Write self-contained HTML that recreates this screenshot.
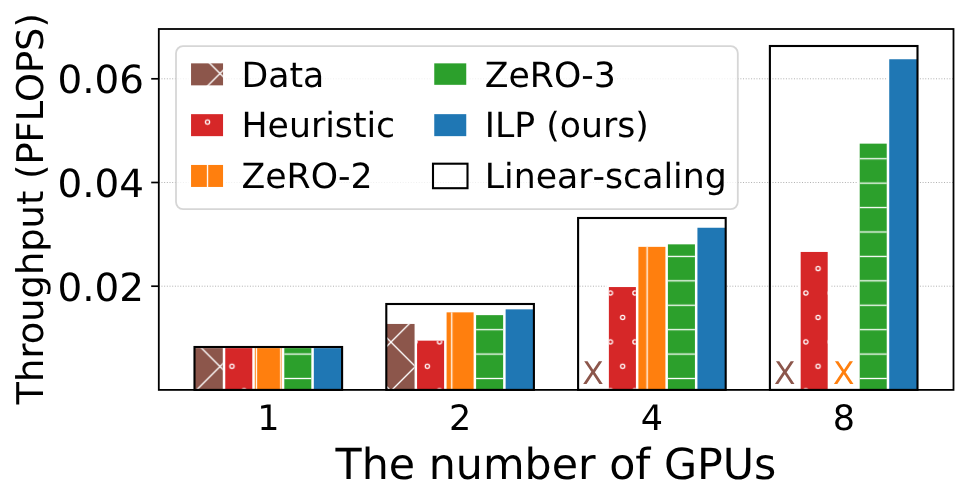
<!DOCTYPE html>
<html><head><meta charset="utf-8"><title>Throughput vs number of GPUs</title>
<style>html,body{margin:0;padding:0;background:#fff;overflow:hidden}svg{display:block}</style></head><body>
<svg width="968" height="502" viewBox="0 0 968 502" font-family="'DejaVu Sans', 'Liberation Sans', sans-serif" text-rendering="geometricPrecision" style="font-kerning:none">
<defs>
<pattern id="hv" patternUnits="userSpaceOnUse" x="0" y="0" width="24.42" height="24.42"><line x1="12.21" y1="-1" x2="12.21" y2="25.42" stroke="#fff" stroke-width="1.3"/></pattern>
<pattern id="hh" patternUnits="userSpaceOnUse" x="0" y="0" width="24.42" height="24.42"><line x1="-1" y1="12.21" x2="25.42" y2="12.21" stroke="#fff" stroke-width="1.3"/></pattern>
<pattern id="hx" patternUnits="userSpaceOnUse" x="0.25" y="0.25" width="48.84" height="48.84"><g stroke="#fff" stroke-width="1.3"><line x1="-50.84" y1="-2" x2="2.0" y2="50.84"/><line x1="2.0" y1="-2" x2="-50.84" y2="50.84"/><line x1="-2.0" y1="-2" x2="50.84" y2="50.84"/><line x1="50.84" y1="-2" x2="-2.0" y2="50.84"/><line x1="46.84" y1="-2" x2="99.68" y2="50.84"/><line x1="99.68" y1="-2" x2="46.84" y2="50.84"/></g></pattern>
<pattern id="ho" patternUnits="userSpaceOnUse" x="0" y="0" width="24.42" height="48.84"><g fill="none" stroke="#fff" stroke-width="1.25"><circle cx="0" cy="0" r="2.1"/><circle cx="24.42" cy="0" r="2.1"/><circle cx="0" cy="48.84" r="2.1"/><circle cx="24.42" cy="48.84" r="2.1"/><circle cx="12.21" cy="24.42" r="2.1"/></g></pattern>
</defs>
<rect width="968" height="502" fill="#fff"/>
<line x1="158.8" y1="286.20" x2="953.5" y2="286.20" stroke="#b0b0b0" stroke-width="1" stroke-dasharray="1 1.68"/>
<line x1="158.8" y1="182.50" x2="953.5" y2="182.50" stroke="#b0b0b0" stroke-width="1" stroke-dasharray="1 1.68"/>
<line x1="158.8" y1="78.80" x2="953.5" y2="78.80" stroke="#b0b0b0" stroke-width="1" stroke-dasharray="1 1.68"/>
<rect x="193.25" y="345.65" width="32.02" height="44.25" fill="#fff"/>
<rect x="222.77" y="345.65" width="32.02" height="44.25" fill="#fff"/>
<rect x="252.29" y="345.65" width="32.02" height="44.25" fill="#fff"/>
<rect x="281.81" y="345.65" width="32.02" height="44.25" fill="#fff"/>
<rect x="311.33" y="345.65" width="32.02" height="44.25" fill="#fff"/>
<rect x="385.05" y="321.45" width="32.02" height="68.45" fill="#fff"/>
<rect x="414.57" y="338.15" width="32.02" height="51.75" fill="#fff"/>
<rect x="444.09" y="309.85" width="32.02" height="80.05" fill="#fff"/>
<rect x="473.61" y="312.65" width="32.02" height="77.25" fill="#fff"/>
<rect x="503.13" y="306.85" width="32.02" height="83.05" fill="#fff"/>
<rect x="606.37" y="284.55" width="32.02" height="105.35" fill="#fff"/>
<rect x="635.89" y="244.35" width="32.02" height="145.55" fill="#fff"/>
<rect x="665.41" y="241.85" width="32.02" height="148.05" fill="#fff"/>
<rect x="694.93" y="225.25" width="32.02" height="164.65" fill="#fff"/>
<rect x="798.17" y="249.45" width="32.02" height="140.45" fill="#fff"/>
<rect x="857.21" y="141.15" width="32.02" height="248.75" fill="#fff"/>
<rect x="886.73" y="56.75" width="32.02" height="333.15" fill="#fff"/>
<rect x="194.50" y="348.15" width="28.27" height="41.75" fill="#8c564b"/>
<rect x="194.50" y="348.15" width="28.27" height="41.75" fill="url(#hx)"/>
<rect x="225.27" y="348.15" width="27.02" height="41.75" fill="#d62728"/>
<rect x="225.27" y="348.15" width="27.02" height="41.75" fill="url(#ho)"/>
<rect x="254.79" y="348.15" width="27.02" height="41.75" fill="#ff7f0e"/>
<rect x="254.79" y="348.15" width="27.02" height="41.75" fill="url(#hv)"/>
<rect x="284.31" y="348.15" width="27.02" height="41.75" fill="#2ca02c"/>
<rect x="284.31" y="348.15" width="27.02" height="41.75" fill="url(#hh)"/>
<rect x="313.83" y="348.15" width="28.27" height="41.75" fill="#1f77b4"/>
<rect x="386.30" y="323.95" width="28.27" height="65.95" fill="#8c564b"/>
<rect x="386.30" y="323.95" width="28.27" height="65.95" fill="url(#hx)"/>
<rect x="417.07" y="340.65" width="27.02" height="49.25" fill="#d62728"/>
<rect x="417.07" y="340.65" width="27.02" height="49.25" fill="url(#ho)"/>
<rect x="446.59" y="312.35" width="27.02" height="77.55" fill="#ff7f0e"/>
<rect x="446.59" y="312.35" width="27.02" height="77.55" fill="url(#hv)"/>
<rect x="476.11" y="315.15" width="27.02" height="74.75" fill="#2ca02c"/>
<rect x="476.11" y="315.15" width="27.02" height="74.75" fill="url(#hh)"/>
<rect x="505.63" y="309.35" width="28.27" height="80.55" fill="#1f77b4"/>
<rect x="608.87" y="287.05" width="27.02" height="102.85" fill="#d62728"/>
<rect x="608.87" y="287.05" width="27.02" height="102.85" fill="url(#ho)"/>
<rect x="638.39" y="246.85" width="27.02" height="143.05" fill="#ff7f0e"/>
<rect x="638.39" y="246.85" width="27.02" height="143.05" fill="url(#hv)"/>
<rect x="667.91" y="244.35" width="27.02" height="145.55" fill="#2ca02c"/>
<rect x="667.91" y="244.35" width="27.02" height="145.55" fill="url(#hh)"/>
<rect x="697.43" y="227.75" width="28.27" height="162.15" fill="#1f77b4"/>
<rect x="800.67" y="251.95" width="27.02" height="137.95" fill="#d62728"/>
<rect x="800.67" y="251.95" width="27.02" height="137.95" fill="url(#ho)"/>
<rect x="859.71" y="143.65" width="27.02" height="246.25" fill="#2ca02c"/>
<rect x="859.71" y="143.65" width="27.02" height="246.25" fill="url(#hh)"/>
<rect x="889.23" y="59.25" width="28.27" height="330.65" fill="#1f77b4"/>
<rect x="194.50" y="347.00" width="147.60" height="42.90" fill="none" stroke="#000" stroke-width="2.1"/>
<rect x="386.30" y="304.00" width="147.60" height="85.90" fill="none" stroke="#000" stroke-width="2.1"/>
<rect x="578.10" y="218.00" width="147.60" height="171.90" fill="none" stroke="#000" stroke-width="2.1"/>
<rect x="769.90" y="46.00" width="147.60" height="343.90" fill="none" stroke="#000" stroke-width="2.1"/>
<text transform="translate(592.86 384.1) " font-size="31.3" fill="#8c564b" text-anchor="middle">X</text>
<text transform="translate(784.66 384.1) " font-size="31.3" fill="#8c564b" text-anchor="middle">X</text>
<text transform="translate(843.70 384.1) " font-size="31.3" fill="#ff7f0e" text-anchor="middle">X</text>
<rect x="158.8" y="29.0" width="794.70" height="360.90" fill="none" stroke="#000" stroke-width="1.8"/>
<line x1="151.2" y1="286.20" x2="158.8" y2="286.20" stroke="#000" stroke-width="1.7"/>
<text x="144.0" y="300.80" font-size="38.9" text-anchor="end">0.02</text>
<line x1="151.2" y1="182.50" x2="158.8" y2="182.50" stroke="#000" stroke-width="1.7"/>
<text x="144.0" y="197.10" font-size="38.9" text-anchor="end">0.04</text>
<line x1="151.2" y1="78.80" x2="158.8" y2="78.80" stroke="#000" stroke-width="1.7"/>
<text x="144.0" y="93.40" font-size="38.9" text-anchor="end">0.06</text>
<text x="268.40" y="430.4" font-size="35" text-anchor="middle">1</text>
<text x="460.20" y="430.4" font-size="35" text-anchor="middle">2</text>
<text x="652.00" y="430.4" font-size="35" text-anchor="middle">4</text>
<text x="843.80" y="430.4" font-size="35" text-anchor="middle">8</text>
<text x="335.6" y="478.6" font-size="42.75">The number of GPUs</text>
<text transform="translate(42.8 404.4) rotate(-90)" x="0" y="0" font-size="36.8" style="font-kerning:normal">Throughput (PFLOPS)</text>
<rect x="176.0" y="46.2" width="561.8" height="162.9" rx="7" ry="7" fill="#fff" fill-opacity="0.8" stroke="#cccccc" stroke-opacity="0.8" stroke-width="1.8"/>
<rect x="189.8" y="62.1" width="34.5" height="24.5" fill="#8c564b"/>
<rect x="189.8" y="62.1" width="34.5" height="24.5" fill="url(#hx)"/>
<rect x="189.8" y="62.1" width="34.5" height="24.5" fill="none" stroke="#fff" stroke-width="2.5"/>
<text x="241.5" y="87" font-size="34.7">Data</text>
<rect x="189.8" y="112.9" width="34.5" height="24.5" fill="#d62728"/>
<rect x="189.8" y="112.9" width="34.5" height="24.5" fill="url(#ho)"/>
<rect x="189.8" y="112.9" width="34.5" height="24.5" fill="none" stroke="#fff" stroke-width="2.5"/>
<text x="241.5" y="137" font-size="34.7">Heuristic</text>
<rect x="189.8" y="163.7" width="34.5" height="24.5" fill="#ff7f0e"/>
<rect x="189.8" y="163.7" width="34.5" height="24.5" fill="url(#hv)"/>
<rect x="189.8" y="163.7" width="34.5" height="24.5" fill="none" stroke="#fff" stroke-width="2.5"/>
<text x="241.5" y="188" font-size="34.7">ZeRO-2</text>
<rect x="433.0" y="62.1" width="34.5" height="24.5" fill="#2ca02c"/>
<rect x="433.0" y="62.1" width="34.5" height="24.5" fill="url(#hh)"/>
<rect x="433.0" y="62.1" width="34.5" height="24.5" fill="none" stroke="#fff" stroke-width="2.5"/>
<text x="484.7" y="87" font-size="34.7">ZeRO-3</text>
<rect x="433.0" y="112.9" width="34.5" height="24.5" fill="#1f77b4"/>
<rect x="433.0" y="112.9" width="34.5" height="24.5" fill="none" stroke="#fff" stroke-width="2.5"/>
<text x="484.7" y="137" font-size="34.7">ILP (ours)</text>
<rect x="433.0" y="163.7" width="34.5" height="24.5" fill="none" stroke="#000" stroke-width="2.1"/>
<text x="484.7" y="188" font-size="34.7">Linear-scaling</text>
</svg></body></html>
